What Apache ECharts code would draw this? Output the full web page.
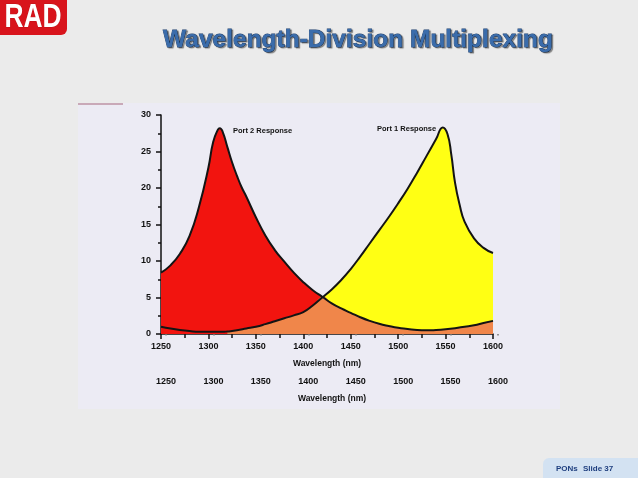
<!DOCTYPE html>
<html>
<head>
<meta charset="utf-8">
<script src="https://cdn.jsdelivr.net/npm/echarts@6/dist/echarts.min.js"></script>
<style>
html,body{margin:0;padding:0;background:#ebebeb;}
#c{width:638px;height:478px;}
</style>
</head>
<body>
<div id="c"></div>
<script>
// ---- data ----
var titleText = 'Wavelength-Division Multiplexing';
var xTicks = [1250, 1300, 1350, 1400, 1450, 1500, 1550, 1600];
var yTicks = [0, 5, 10, 15, 20, 25, 30];
var xName = 'Wavelength (nm)';

// Port 2 response (red, peak ~1312 nm)
var port2Wl  = [1250,1260,1270,1280,1290,1300,1305,1310,1312,1315,1320,1325,1330,1335,1340,1350,1360,1370,1380,1390,1400,1410,1420,1430,1440,1450,1460,1470,1480,1490,1500,1510,1520,1530,1540,1550,1560,1570,1580,1590,1600];
var port2Val = [8.4,9.4,11.0,13.4,17.4,22.8,26.3,28.0,28.2,27.7,25.6,23.5,21.7,20.1,18.8,16.0,13.5,11.5,9.9,8.4,7.1,6.0,5.1,4.2,3.5,2.9,2.3,1.8,1.4,1.1,0.85,0.7,0.55,0.5,0.55,0.65,0.8,1.0,1.2,1.5,1.8];

// Port 1 response (yellow, peak ~1547 nm)
var port1Wl  = [1250,1260,1270,1280,1290,1300,1305,1310,1315,1320,1330,1340,1350,1360,1370,1380,1390,1400,1410,1420,1430,1440,1450,1460,1470,1480,1490,1500,1510,1520,1530,1540,1547,1552,1556,1560,1565,1570,1580,1590,1600];
var port1Val = [1.0,0.75,0.55,0.4,0.3,0.3,0.3,0.3,0.3,0.35,0.5,0.75,1.0,1.35,1.75,2.15,2.55,3.0,3.9,5.0,6.1,7.4,8.9,10.6,12.4,14.2,16.0,17.9,19.9,22.1,24.4,26.7,28.3,27.4,24.6,20.7,17.6,15.4,13.1,11.8,11.1];

// Overlap region (orange, under both responses)
var overlapWl  = [1320,1330,1340,1350,1360,1370,1380,1390,1400,1410,1421,1430,1440,1450,1460,1470,1480,1490,1500,1510,1520,1530,1540,1550,1560,1570,1580,1590,1600];
var overlapVal = [0.35,0.5,0.75,1.0,1.35,1.75,2.15,2.55,3.0,3.9,5.1,4.2,3.5,2.9,2.3,1.8,1.4,1.1,0.85,0.7,0.55,0.5,0.55,0.65,0.8,1.0,1.2,1.5,1.8];

var seriesLabels = ['Port 2 Response', 'Port 1 Response'];
// ---------------------------------------

function pairs(xs, ys){ return xs.map(function(x,i){ return [x, ys[i]]; }); }

var chart = echarts.init(document.getElementById('c'), null, {renderer:'canvas'});
var F = 'Liberation Sans, Arial, sans-serif';
var SM = 0.5;

function fill(name, xs, ys, color){
  return {name:name, type:'line', xAxisIndex:0, yAxisIndex:0, data:pairs(xs,ys), smooth:SM,
    showSymbol:false, silent:true, lineStyle:{width:0}, areaStyle:{color:color, opacity:1}};
}
function line(name, xs, ys){
  return {name:name, type:'line', xAxisIndex:0, yAxisIndex:0, data:pairs(xs,ys), smooth:SM,
    showSymbol:false, silent:true, lineStyle:{color:'#141414', width:2}};
}

function plain(v){ return String(v); }
var axisLabelStyle = {color:'#111', fontFamily:F, fontWeight:'bold', fontSize:9, formatter:plain};

var option = {
  backgroundColor:'#ebebeb',
  animation:false,
  grid:[
    {left:161, top:115, width:332, height:219},
    {left:166, top:115, width:332, height:219}
  ],
  xAxis:[
    {type:'value', gridIndex:0, min:xTicks[0], max:xTicks[xTicks.length-1], interval:50,
     name:xName, nameLocation:'middle', nameGap:25,
     nameTextStyle:{color:'#111', fontFamily:F, fontWeight:'bold', fontSize:8.5},
     axisLine:{lineStyle:{color:'#111', width:1.5}},
     axisTick:{length:5, lineStyle:{color:'#111', width:1.5}},
     minorTick:{show:true, splitNumber:2, length:4, lineStyle:{color:'#111', width:1.5}},
     splitLine:{show:false},
     axisLabel:Object.assign({margin:8}, axisLabelStyle)},
    {type:'value', gridIndex:1, min:xTicks[0], max:xTicks[xTicks.length-1], interval:50, offset:35,
     name:xName, nameLocation:'middle', nameGap:25,
     nameTextStyle:{color:'#111', fontFamily:F, fontWeight:'bold', fontSize:8.5},
     axisLine:{show:false},
     axisTick:{show:true, length:1.5, lineStyle:{color:'#777', width:1.5}},
     splitLine:{show:false},
     axisLabel:Object.assign({margin:8}, axisLabelStyle)}
  ],
  yAxis:[
    {type:'value', gridIndex:0, min:yTicks[0], max:yTicks[yTicks.length-1], interval:5,
     axisLine:{show:true, lineStyle:{color:'#111', width:1.5}},
     axisTick:{show:true, length:5, lineStyle:{color:'#111', width:1.5}},
     minorTick:{show:true, splitNumber:2, length:3, lineStyle:{color:'#111', width:1.5}},
     splitLine:{show:false},
     axisLabel:Object.assign({margin:10}, axisLabelStyle)},
    {type:'value', gridIndex:1, min:0, max:30, show:false}
  ],
  series:[
    fill('Port 1 fill', port1Wl, port1Val, '#ffff14'),
    fill('Port 2 fill', port2Wl, port2Val, '#f2140f'),
    fill('Overlap', overlapWl, overlapVal, '#f0864a'),
    line(seriesLabels[1], port1Wl, port1Val),
    line(seriesLabels[0], port2Wl, port2Val)
  ],
  graphic:[
    {type:'rect', z:-10, shape:{x:78, y:103, width:482, height:306}, style:{fill:'#ecebf4'}},
    {type:'rect', z:-9, shape:{x:78, y:103, width:45, height:2}, style:{fill:'#c9a9b8'}},
    // logo
    {type:'rect', shape:{x:-6, y:-6, width:73, height:41, r:6}, style:{fill:'#d8141c'}},
    {type:'text', x:33, y:18, scaleX:0.8, style:{text:'RAD', fill:'#ffffff', stroke:'#a80c14', lineWidth:0.6,
      font:'bold 33px "Liberation Sans Narrow", "Liberation Sans", Arial', textAlign:'center', textVerticalAlign:'middle'}},
    // title
    {type:'text', x:358, y:40, style:{text:titleText, fill:'#3a6cab', stroke:'#1d3f6e', lineWidth:0.8,
      font:'bold 24.5px "Liberation Sans", Arial', textAlign:'center', textVerticalAlign:'middle',
      textShadowColor:'rgba(0,0,0,0.4)', textShadowOffsetX:1.5, textShadowOffsetY:1.5, textShadowBlur:1}},
    // port labels
    {type:'text', x:233, y:131, style:{text:seriesLabels[0], fill:'#111', font:'bold 7.5px "Liberation Sans", Arial', textVerticalAlign:'middle'}},
    {type:'text', x:377, y:129, style:{text:seriesLabels[1], fill:'#111', font:'bold 7.5px "Liberation Sans", Arial', textVerticalAlign:'middle'}},
    // footer
    {type:'rect', shape:{x:543, y:458, width:110, height:30, r:6}, style:{fill:'#d3e2f2'}},
    {type:'text', x:556, y:469, style:{text:'PONs', fill:'#1f3f7f', font:'bold 8px "Liberation Sans", Arial', textVerticalAlign:'middle'}},
    {type:'text', x:583, y:469, style:{text:'Slide 37', fill:'#1f3f7f', font:'bold 8px "Liberation Sans", Arial', textVerticalAlign:'middle'}}
  ]
};
chart.setOption(option);
</script>
</body>
</html>
